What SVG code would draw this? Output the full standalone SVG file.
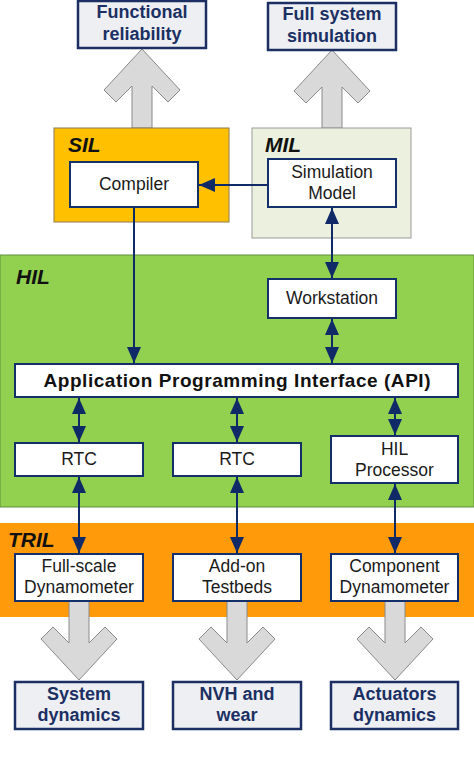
<svg xmlns="http://www.w3.org/2000/svg" width="474" height="758" viewBox="0 0 474 758">
<style>
.res{fill:#eeeff3;stroke:#1b2f63;stroke-width:2.5}
.resT{font-family:"Liberation Sans",Arial,sans-serif;font-weight:bold;font-size:18px;fill:#1b2f63;text-anchor:middle}
.box{fill:#ffffff;stroke:#14306a;stroke-width:2}
.boxT{font-family:"Liberation Sans",Arial,sans-serif;font-size:17.5px;fill:#1a1a1a;text-anchor:middle}
.lvl{font-family:"Liberation Sans",Arial,sans-serif;font-weight:bold;font-style:italic;font-size:21px;fill:#111111}
.con{stroke:#0f2a66;stroke-width:2;fill:none}
.big{fill:#d9d9d9;stroke:#8a8a8a;stroke-width:1}
</style>
<defs>
<marker id="ah" viewBox="0 0 16 14" refX="16" refY="7" markerWidth="16" markerHeight="14" markerUnits="userSpaceOnUse" orient="auto-start-reverse">
<path d="M0,0 L16,7 L0,14 z" fill="#0f2a66"/>
</marker>
</defs>

<!-- level regions -->
<g id="HIL">
<rect x="0" y="255" width="474" height="252" fill="#92d050" stroke="#5f8f3a" stroke-width="1"/>
<text class="lvl" x="16" y="284">HIL</text>
</g>
<g id="TRIL">
<rect x="0" y="523" width="474" height="94" fill="#ff9a0a"/>
<text class="lvl" x="8" y="547">TRIL</text>
</g>

<g id="flows">
<path class="big" d="M142,49 L180,90 L168,102 L152,86 L152,128 L132,128 L132,86 L116,102 L104,90 Z"/>
<path class="big" d="M332,50 L370,91 L358,103 L342,87 L342,128 L322,128 L322,87 L306,103 L294,91 Z"/>
<path class="big" d="M79,680 L117,639 L105,627 L89,643 L89,601 L69,601 L69,643 L53,627 L41,639 Z"/>
<path class="big" d="M237,680 L275,639 L263,627 L247,643 L247,601 L227,601 L227,643 L211,627 L199,639 Z"/>
<path class="big" d="M395,680 L433,639 L421,627 L405,643 L405,601 L385,601 L385,643 L369,627 L357,639 Z"/>
</g>

<g id="SIL">
<rect x="54" y="128" width="175" height="94" fill="#ffc000" stroke="#8a7a50" stroke-width="1"/>
<text class="lvl" x="68" y="152">SIL</text>
</g>
<g id="MIL">
<rect x="252" y="128" width="159" height="110" fill="#ebf1de" stroke="#9a9a9a" stroke-width="1"/>
<text class="lvl" x="265" y="152">MIL</text>
</g>

<g id="functional-reliability">
<rect class="res" x="78" y="1" width="128" height="47"/>
<text class="resT" x="142" y="18">Functional</text>
<text class="resT" x="142" y="40">reliability</text>
</g>
<g id="full-system-simulation">
<rect class="res" x="268" y="3" width="128" height="47"/>
<text class="resT" x="332" y="20">Full system</text>
<text class="resT" x="332" y="42">simulation</text>
</g>

<g id="compiler">
<rect class="box" x="70" y="162" width="128" height="45"/>
<text class="boxT" x="134" y="190">Compiler</text>
</g>
<g id="simulation-model">
<rect class="box" x="268" y="159" width="128" height="48"/>
<text class="boxT" x="332" y="178">Simulation</text>
<text class="boxT" x="332" y="199">Model</text>
</g>
<g id="workstation">
<rect class="box" x="268" y="279" width="128" height="39"/>
<text class="boxT" x="332" y="304">Workstation</text>
</g>
<g id="api">
<rect class="box" x="15" y="364" width="443" height="33"/>
<text x="237" y="387" font-family="Liberation Sans, Arial, sans-serif" font-weight="bold" font-size="19" fill="#111111" text-anchor="middle" textLength="387" lengthAdjust="spacing">Application Programming Interface (API)</text>
</g>
<g id="rtc-1">
<rect class="box" x="15" y="443" width="128" height="33"/>
<text class="boxT" x="79" y="465">RTC</text>
</g>
<g id="rtc-2">
<rect class="box" x="173" y="443" width="128" height="33"/>
<text class="boxT" x="237" y="465">RTC</text>
</g>
<g id="hil-processor">
<rect class="box" x="331" y="436" width="127" height="47"/>
<text class="boxT" x="394.5" y="455">HIL</text>
<text class="boxT" x="394.5" y="476">Processor</text>
</g>
<g id="full-scale-dynamometer">
<rect class="box" x="15" y="554" width="128" height="47"/>
<text class="boxT" x="79" y="572">Full-scale</text>
<text class="boxT" x="79" y="593">Dynamometer</text>
</g>
<g id="add-on-testbeds">
<rect class="box" x="173" y="554" width="128" height="47"/>
<text class="boxT" x="237" y="572">Add-on</text>
<text class="boxT" x="237" y="593">Testbeds</text>
</g>
<g id="component-dynamometer">
<rect class="box" x="331" y="554" width="127" height="47"/>
<text class="boxT" x="394.5" y="572">Component</text>
<text class="boxT" x="394.5" y="593">Dynamometer</text>
</g>

<g id="system-dynamics">
<rect class="res" x="15" y="682" width="128" height="47"/>
<text class="resT" x="79" y="700">System</text>
<text class="resT" x="79" y="721">dynamics</text>
</g>
<g id="nvh-and-wear">
<rect class="res" x="173" y="682" width="128" height="47"/>
<text class="resT" x="237" y="700">NVH and</text>
<text class="resT" x="237" y="721">wear</text>
</g>
<g id="actuators-dynamics">
<rect class="res" x="331" y="682" width="127" height="47"/>
<text class="resT" x="394.5" y="700">Actuators</text>
<text class="resT" x="394.5" y="721">dynamics</text>
</g>

<g id="connectors">
<line class="con" x1="268" y1="185" x2="199" y2="185" marker-end="url(#ah)"/>
<line class="con" x1="134" y1="208" x2="134" y2="363" marker-end="url(#ah)"/>
<line class="con" x1="332" y1="208" x2="332" y2="278" marker-start="url(#ah)" marker-end="url(#ah)"/>
<line class="con" x1="332" y1="319" x2="332" y2="363" marker-start="url(#ah)" marker-end="url(#ah)"/>
<line class="con" x1="79" y1="398" x2="79" y2="442" marker-start="url(#ah)" marker-end="url(#ah)"/>
<line class="con" x1="237" y1="398" x2="237" y2="442" marker-start="url(#ah)" marker-end="url(#ah)"/>
<line class="con" x1="395" y1="398" x2="395" y2="435" marker-start="url(#ah)" marker-end="url(#ah)"/>
<line class="con" x1="79" y1="477" x2="79" y2="553" marker-start="url(#ah)" marker-end="url(#ah)"/>
<line class="con" x1="237" y1="477" x2="237" y2="553" marker-start="url(#ah)" marker-end="url(#ah)"/>
<line class="con" x1="395" y1="484" x2="395" y2="553" marker-start="url(#ah)" marker-end="url(#ah)"/>
</g>
</svg>
